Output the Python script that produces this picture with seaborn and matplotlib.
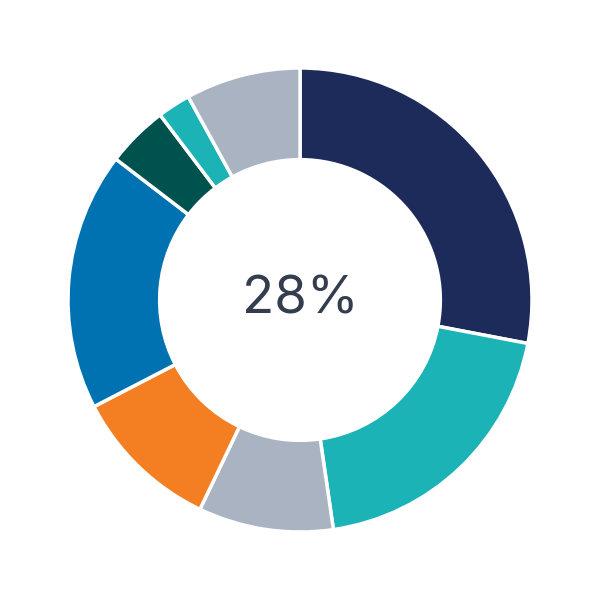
import matplotlib
matplotlib.use("Agg")
import matplotlib.pyplot as plt
import seaborn as sns

labels = ["A", "B", "C", "D", "E", "F", "G", "H"]
values = [28, 19.7, 9.4, 10.3, 18, 4.3, 2.3, 8]
colors = ["#1c2b5a", "#1bb3b5", "#a9b3c1", "#f47f22", "#0072b1", "#00524f", "#1bb3b5", "#a9b3c1"]
center_text = "28%"

sns.set_theme(style="white")
plt.rcParams['font.family'] = ['Inter', 'DejaVu Sans']

fig = plt.figure(figsize=(6, 6), dpi=100)
ax = fig.add_axes([0, 0, 1, 1])
ax.pie(values, colors=colors, startangle=90, counterclock=False, radius=1,
       wedgeprops=dict(width=0.395, edgecolor="white", linewidth=2.5))
lim = 300 / 232
ax.set_xlim(-lim, lim)
ax.set_ylim(-lim, lim)
ax.set_aspect("equal")
ax.axis("off")
ax.text(0, 0, center_text, ha="center", va="center", fontsize=38, color="#333d4d", fontweight="normal")
fig.savefig("out.png", dpi=100, facecolor="white")
